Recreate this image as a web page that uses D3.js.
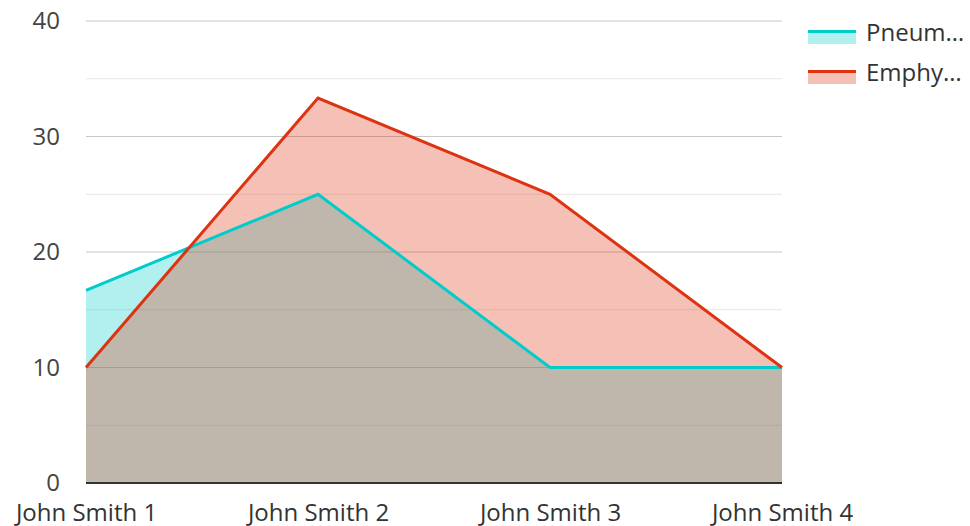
<!DOCTYPE html>
<html>
<head>
<meta charset="utf-8">
<script src="https://cdn.jsdelivr.net/npm/d3@7"></script>
<style>
  html, body { margin: 0; padding: 0; background: #fff; }
  svg { display: block; font-family: "Open Sans", sans-serif; }
</style>
</head>
<body>
<svg id="chart" width="970" height="526"></svg>
<script>
// Chart data
const categories = ['John Smith 1', 'John Smith 2', 'John Smith 3', 'John Smith 4'];
const pneumonia = [16.67, 25, 10, 10];
const emphysema = [10, 33.33, 25, 10];
const majorTicks = [0, 10, 20, 30, 40];
const minorTicks = [5, 15, 25, 35];
const legendLabels = ['Pneum…', 'Emphy…'];

const series = [
    { name: legendLabels[0], values: pneumonia, color: '#00cccc' },
    { name: legendLabels[1], values: emphysema, color: '#dd3311' }
];

const svg = d3.select('#chart');
const margin = { top: 21, left: 86 };
const innerWidth = 696;
const innerHeight = 462;

const g = svg.append('g')
    .attr('transform', `translate(${margin.left}, ${margin.top})`);

// Scales
const xScale = d3.scalePoint()
    .domain(categories)
    .range([0, innerWidth]);

const yScale = d3.scaleLinear()
    .domain([0, 40])
    .range([innerHeight, 0]);

// Grid lines
g.append('g')
    .selectAll('line')
    .data(minorTicks)
    .enter()
    .append('line')
    .attr('x1', 0)
    .attr('x2', innerWidth)
    .attr('y1', d => yScale(d))
    .attr('y2', d => yScale(d))
    .attr('stroke', '#e6e6e6')
    .attr('stroke-width', 1);

g.append('g')
    .selectAll('line')
    .data(majorTicks.filter(d => d !== 0))
    .enter()
    .append('line')
    .attr('x1', 0)
    .attr('x2', innerWidth)
    .attr('y1', d => yScale(d))
    .attr('y2', d => yScale(d))
    .attr('stroke', '#c8c8c8')
    .attr('stroke-width', 1);

// Areas
const area = d3.area()
    .x((d, i) => xScale(categories[i]))
    .y0(innerHeight)
    .y1(d => yScale(d));

series.forEach(s => {
    g.append('path')
        .datum(s.values)
        .attr('fill', s.color)
        .attr('fill-opacity', 0.3)
        .attr('d', area);
});

// Lines
const line = d3.line()
    .x((d, i) => xScale(categories[i]))
    .y(d => yScale(d));

series.forEach(s => {
    g.append('path')
        .datum(s.values)
        .attr('fill', 'none')
        .attr('stroke', s.color)
        .attr('stroke-width', 3)
        .attr('d', line);
});

// Baseline
g.append('line')
    .attr('x1', 0)
    .attr('x2', innerWidth)
    .attr('y1', yScale(0))
    .attr('y2', yScale(0))
    .attr('stroke', '#333333')
    .attr('stroke-width', 2);

// Y axis
const yAxis = g.append('g')
    .call(d3.axisLeft(yScale).tickValues(majorTicks).tickSize(0).tickPadding(26));
yAxis.select('.domain').remove();
yAxis.selectAll('text')
    .style('font-size', '24px')
    .style('fill', '#444444')
    .style('font-family', '"Open Sans", sans-serif');

// X axis
const xAxis = g.append('g')
    .attr('transform', `translate(0, ${innerHeight})`)
    .call(d3.axisBottom(xScale).tickSize(0).tickPadding(0));
xAxis.select('.domain').remove();
xAxis.selectAll('text')
    .attr('dy', null)
    .attr('y', 38)
    .style('font-size', '24px')
    .style('fill', '#333333')
    .style('font-family', '"Open Sans", sans-serif');

// Legend
const legend = svg.append('g')
    .attr('transform', 'translate(808, 30)');

const items = legend.selectAll('g')
    .data(series)
    .enter()
    .append('g')
    .attr('transform', (d, i) => `translate(0, ${i * 40})`);

items.append('rect')
    .attr('width', 48)
    .attr('height', 14)
    .attr('fill', d => d.color)
    .attr('fill-opacity', 0.3);

items.append('rect')
    .attr('width', 48)
    .attr('height', 3)
    .attr('fill', d => d.color);

items.append('text')
    .attr('x', 58)
    .attr('y', 11)
    .style('font-size', '24px')
    .style('fill', '#333333')
    .text(d => d.name);
</script>
</body>
</html>
